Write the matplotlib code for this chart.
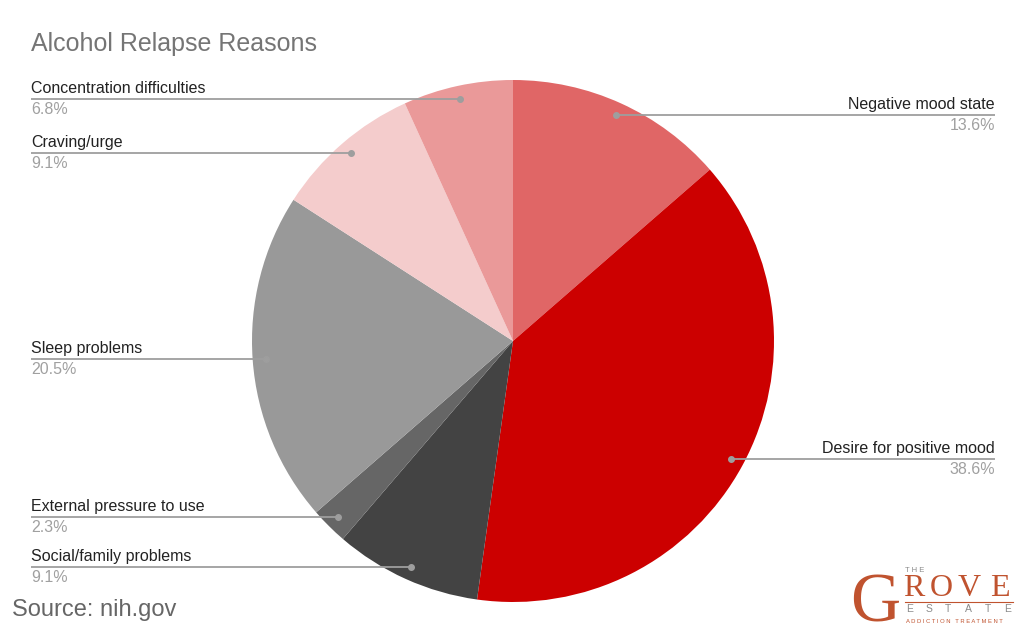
import numpy as np
import matplotlib.pyplot as plt

plt.rcParams['font.family'] = ['Liberation Sans', 'DejaVu Sans']

# data, clockwise from 12 o'clock
reasons = ['Negative mood state', 'Desire for positive mood', 'Social/family problems',
           'External pressure to use', 'Sleep problems', 'Craving/urge',
           'Concentration difficulties']
shares = [13.6, 38.6, 9.1, 2.3, 20.5, 9.1, 6.8]
colors = ['#e06666', '#cc0000', '#434343', '#666666', '#999999', '#f4cccc', '#ea9999']

W, H = 1024, 634
fig = plt.figure(figsize=(W / 100, H / 100), dpi=100)
ax = fig.add_axes([0, 0, 1, 1])

cx, cy, R = 513, H - 341, 261
wedges, _ = ax.pie(shares, colors=colors, startangle=90, counterclock=False,
                   center=(cx, cy), radius=R, wedgeprops=dict(linewidth=0))
ax.set_xlim(0, W)
ax.set_ylim(0, H)
ax.set_aspect('equal')
ax.axis('off')

# leader lines and labels
line_col = '#9e9e9e'
for w, name, val in zip(wedges, reasons, shares):
    mid = np.deg2rad((w.theta1 + w.theta2) / 2)
    px = cx + 0.95 * R * np.cos(mid)
    py = cy + 0.95 * R * np.sin(mid)
    if px < cx:
        x_end, ha = 31, 'left'
    else:
        x_end, ha = 995, 'right'
    ax.plot([px, x_end], [py, py], color=line_col, lw=1.3, solid_capstyle='butt', zorder=3)
    ax.plot(px, py, 'o', color=line_col, ms=4, zorder=4)
    ax.text(x_end, py + 3, name, ha=ha, va='bottom', fontsize=11.5, color='#222222')
    ax.text(x_end, py - 3, f'{val}%', ha=ha, va='top', fontsize=11.5, color='#a0a0a0')

fig.text(31 / W, 1 - 44 / H, 'Alcohol Relapse Reasons', ha='left', va='center',
         fontsize=18, color='#757575')
fig.text(12 / W, 1 - 610 / H, 'Source: nih.gov', ha='left', va='center',
         fontsize=17, color='#666666')

# logo (drawn in pixel coords of the full-figure axes)
rust = '#c0532f'
grey = '#8a8a8a'
serif = ['Liberation Serif', 'DejaVu Serif']
ax.text(850, H - 621, 'G', ha='left', va='baseline', fontsize=50,
        color=rust, family=serif)
for ch, x in zip('ROVE', [903, 930, 958, 990]):
    ax.text(x, H - 596, ch, ha='left', va='baseline', fontsize=23,
            color=rust, family=serif)
ax.text(905, H - 570, 'T H E', ha='left', va='center', fontsize=5.5, color=grey)
ax.plot([905, 1013], [H - 602, H - 602], color=rust, lw=0.8)
for ch, x in zip('ESTATE', np.linspace(906, 1004, 6)):
    ax.text(x, H - 609, ch, ha='left', va='center', fontsize=7.5, color=grey)
ax.text(906, H - 621.5, 'A D D I C T I O N   T R E A T M E N T', ha='left',
        va='center', fontsize=4.2, color=rust)

fig.savefig('out.png', dpi=100)
